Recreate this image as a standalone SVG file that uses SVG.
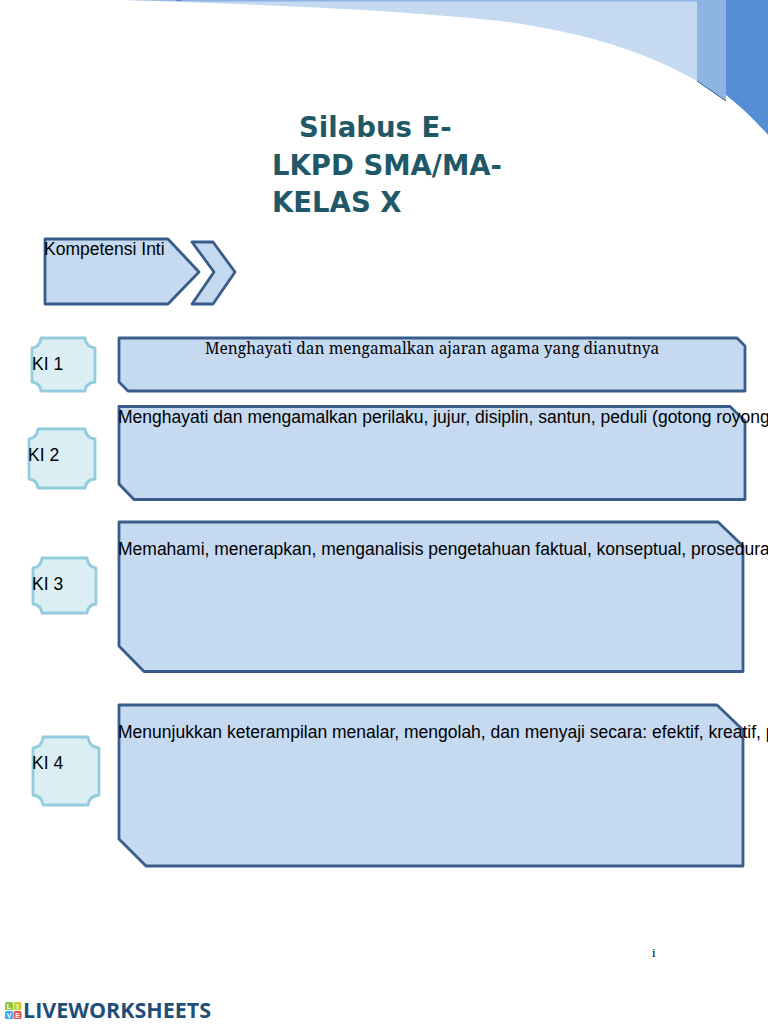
<svg xmlns="http://www.w3.org/2000/svg" width="768" height="1024" viewBox="0 0 768 1024">
<style>
.box{fill:#c5d9f1;stroke:#385d8a;stroke-width:2.8;stroke-linejoin:round}
.ki{fill:#dbeef4;stroke:#93cddd;stroke-width:2.8;stroke-linejoin:round}
.t{font-family:"Liberation Sans",Arial,sans-serif;font-size:17.5px;fill:#000}
.s{font-family:"Noto Serif","DejaVu Serif","Liberation Serif",serif;font-size:15.5px;fill:#000}
.h{font-family:"DejaVu Sans",sans-serif;font-size:27.5px;font-weight:bold;fill:#215868}
.tile{font-family:"Liberation Sans",sans-serif;font-size:7px;font-weight:bold;fill:#fff;text-anchor:middle}
</style>
<rect width="768" height="1024" fill="#fff"/>
<g id="decor">
<path d="M726 0H768V135C755 120 741 107 726 95Z" fill="#558ed5"/>
<path d="M697 0H726V101L697 81Z" fill="#8eb4e3"/>
<path d="M125 0H697V81C640 48 570 30 500 21C400 10 250 4 125 0Z" fill="#c5d9f1"/>
<path d="M697 81L726 101" fill="none" stroke="#385d8a" stroke-width="1"/>
<path d="M125 0H697V1.500H200Z" fill="#8eb4e3"/>
<path d="M176 0H182V1H176Z" fill="#558ed5"/>
</g>
<g id="title">
<text class="h" x="299" y="136.500">Silabus E-</text>
<text class="h" x="272" y="174.500">LKPD SMA/MA-</text>
<text class="h" x="272" y="212">KELAS X</text>
</g>
<g id="kompetensi">
<path class="box" d="M45 239H168L199 272L168 304H45Z"/>
<path class="box" d="M192 242H213L235 272L213 304H192L214 272Z"/>
<text class="t" x="44" y="254.500">Kompetensi Inti</text>
</g>
<g id="ki1">
<path class="ki" d="M41 338H85Q86 347 95 348V382Q86 383 85 391H41Q40 383 32 382V348Q40 347 41 338Z"/>
<text class="t" x="32" y="369.500">KI 1</text>
</g>
<g id="box1">
<path class="box" d="M119 338H737L745 346V391H128L119 382Z"/>
<text class="s" x="205" y="354">Menghayati dan mengamalkan ajaran agama yang dianutnya</text>
</g>
<g id="ki2">
<path class="ki" d="M38 429H85Q86 438 95 439V479Q86 480 85 488H38Q37 480 29 479V439Q37 438 38 429Z"/>
<text class="t" x="28" y="460.500">KI 2</text>
</g>
<g id="box2">
<path class="box" d="M119 406.500H730L745 421V499.500H134L119 484Z"/>
<text class="t" x="118" y="422.500">Menghayati dan mengamalkan perilaku, jujur, disiplin, santun, peduli (gotong royong</text>
</g>
<g id="ki3">
<path class="ki" d="M42 558H87Q88 567 96 568V604Q88 605 87 613H42Q41 605 33 604V568Q41 567 42 558Z"/>
<text class="t" x="32" y="589.500">KI 3</text>
</g>
<g id="box3">
<path class="box" d="M119 522H718L743 546V671.500H144L119 646Z"/>
<text class="t" x="118" y="554.500">Memahami, menerapkan, menganalisis pengetahuan faktual, konseptual, prosedura</text>
</g>
<g id="ki4">
<path class="ki" d="M43 737H88Q89 747 99 748V795Q89 796 88 805H43Q42 796 33 795V748Q42 747 43 737Z"/>
<text class="t" x="32" y="768.500">KI 4</text>
</g>
<g id="box4">
<path class="box" d="M119 705H717L743 730V866H146L119 839Z"/>
<text class="t" x="118" y="737.500">Menunjukkan keterampilan menalar, mengolah, dan menyaji secara: efektif, kreatif, p</text>
</g>
<text id="page" x="652" y="957" font-family="'Liberation Serif',serif" font-size="13" fill="#000">i</text>
<g id="logo">
<rect x="5" y="1002" width="8" height="8" rx="1.500" fill="#8cc63f"/>
<rect x="13.500" y="1002" width="8" height="8" rx="1.500" fill="#c9cf3a"/>
<rect x="5" y="1011" width="8" height="8" rx="1.500" fill="#3fa9f5"/>
<rect x="13.500" y="1011" width="8" height="8" rx="1.500" fill="#e8544f"/>
<text class="tile" x="9" y="1009">L</text>
<text class="tile" x="17.500" y="1009">I</text>
<text class="tile" x="9" y="1018">V</text>
<text class="tile" x="17.500" y="1018">E</text>
<text x="23" y="1018" font-family="'Open Sans','Liberation Sans',sans-serif" font-weight="bold" font-size="21" fill="#1f4e79" textLength="188" lengthAdjust="spacingAndGlyphs">LIVEWORKSHEETS</text>
</g>
</svg>
